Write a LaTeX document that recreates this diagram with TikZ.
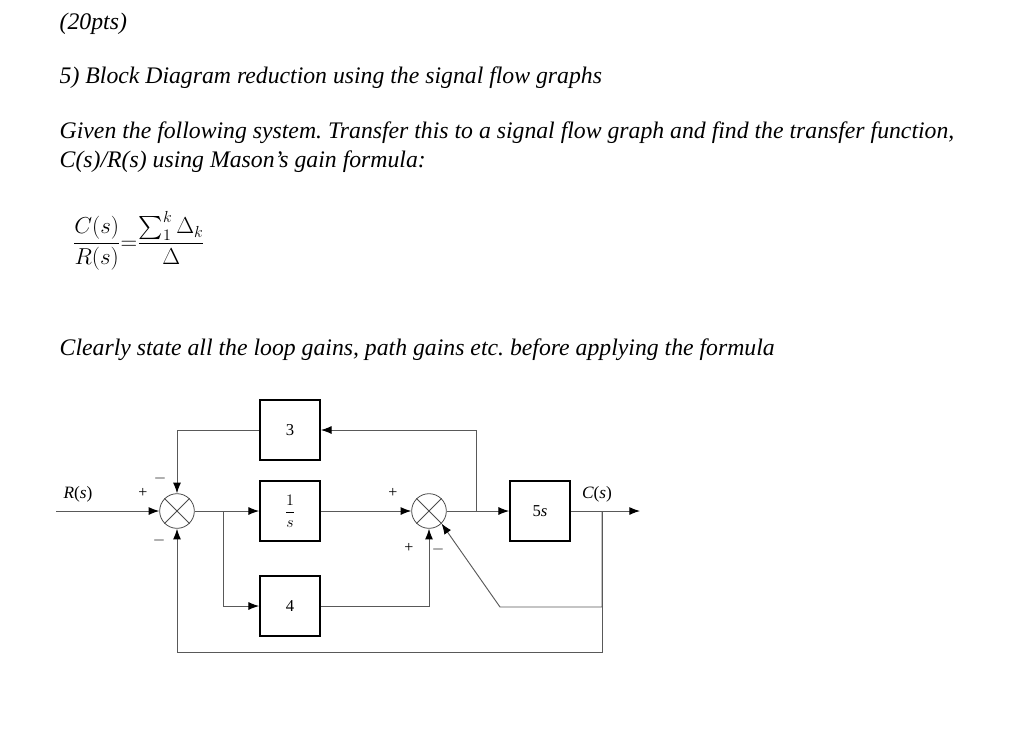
\documentclass[tikz,border=0pt]{standalone}
\usepackage{amsmath}
\usepackage{fontspec}
\setmainfont{Liberation Serif}
\usetikzlibrary{arrows.meta}
\frenchspacing
\begin{document}
\begin{tikzpicture}[x=0.75pt,y=-0.75pt,
  blk/.style={draw,line width=1.4pt,minimum width=45pt,minimum height=45pt,inner sep=0pt,font=\fontsize{12.5}{14}\selectfont},
  sumj/.style={draw=black!70,circle,minimum size=26pt,inner sep=0pt,line width=0.6pt},
  ln/.style={draw=black!65,line width=0.7pt},
  ar/.style={ln,-{Latex[length=8pt,width=6pt,black]}},
  txt/.style={anchor=base west,font=\fontsize{17.8}{20}\selectfont\itshape},
  sg/.style={font=\fontsize{12}{14}\selectfont}]
\useasboundingbox (0,0) rectangle (1016,733);
\node[txt] (t1) at (55,29) {(20pts)};
\node[txt] (t2) at (55,83) {5) Block Diagram reduction using the signal flow graphs};
\node[txt] (t3) at (55,138) {Given the following system. Transfer this to a signal flow graph and find the transfer function,};
\node[txt] (t4) at (55,167) {C(s)/R(s) using Mason’s gain formula:};
\node[anchor=west,font=\fontsize{17}{19}\selectfont] (f) at (68,241) {$\dfrac{C(s)}{R(s)}{=}\dfrac{\sum_1^k \Delta_k}{\Delta}$};
\node[txt] (t5) at (55,355) {Clearly state all the loop gains, path gains etc. before applying the formula};
% diagram
\node[sumj] (s1) at (177,511) {};
\draw[black!70,line width=0.6pt] (s1.north west)--(s1.south east) (s1.north east)--(s1.south west);
\node[sumj] (s2) at (429,511) {};
\draw[black!70,line width=0.6pt] (s2.north west)--(s2.south east) (s2.north east)--(s2.south west);
\node[blk] (b3) at (290,430) {3};
\node[blk] (bi) at (290,511) {$\dfrac{1}{s}$};
\node[blk] (b4) at (290,606) {4};
\node[blk] (b5) at (540,511) {5\textit{s}};
\coordinate (in) at (56,511);
\coordinate (out) at (640,511);
\coordinate (j1) at (223,511);
\coordinate (j2) at (476,511);
\coordinate (j3) at (602,511);
\draw[ar] (in) -- (s1.west);
\draw[ar] (s1.east) -- (bi.west);
\draw[ar] (j1) |- (b4.west);
\draw[ar] (bi.east) -- (s2.west);
\draw[ar] (b4.east) -| (s2.south);
\draw[ar] (s2.east) -- (b5.west);
\draw[ar] (j2) |- (b3.east);
\draw[ar] (b3.west) -| (s1.north);
\draw[ar] (b5.east) -- (out);
\draw[ar] (j3) |- (177,652) -- (s1.south);
\coordinate (d1) at (500,607);
\draw[ar] (j3) |- (d1) -- (s2.south east);
\node[anchor=base,font=\fontsize{13}{15}\selectfont] (rl) at (78,498) {\textit{R}(\textit{s})};
\node[anchor=base,font=\fontsize{13}{15}\selectfont] (cl) at (597,498) {\textit{C}(\textit{s})};
\node[sg] (p1) at (143,493) {+};
\node[sg] (m1) at (160,478) {$-$};
\node[sg] (m2) at (159,540) {$-$};
\node[sg] (p2) at (393,493) {+};
\node[sg] (p3) at (409,548) {+};
\node[sg] (m3) at (438,549) {$-$};
\end{tikzpicture}
\end{document}
